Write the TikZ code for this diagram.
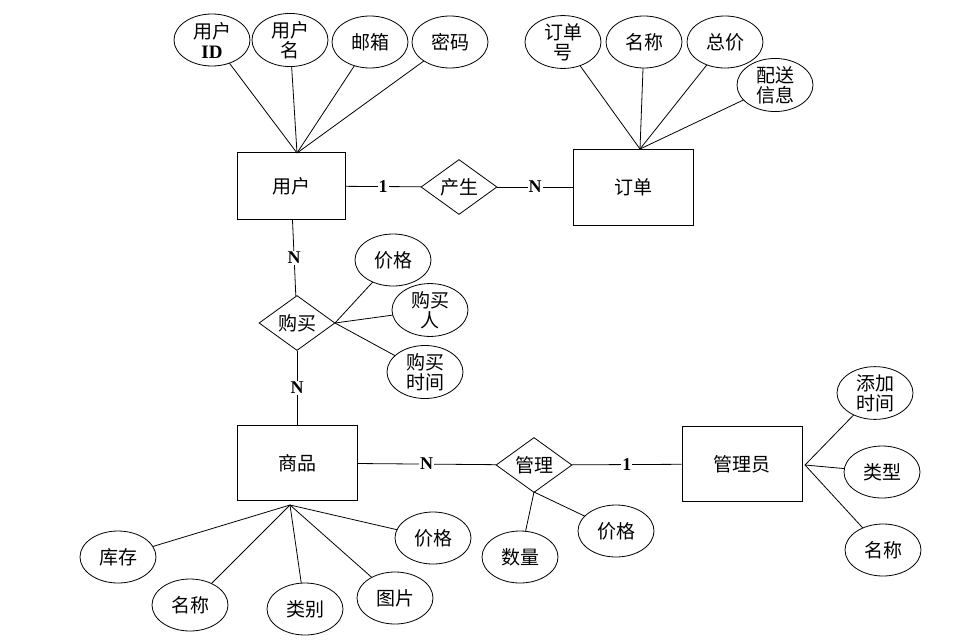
\documentclass[tikz,border=0pt]{standalone}
\usepackage{fontspec}
\setmainfont{Liberation Serif}
\newfontfamily\cjk{Noto Sans CJK SC}
\usetikzlibrary{shapes.geometric}
\begin{document}
\begin{tikzpicture}[x=1pt,y=-1pt,
  ent/.style={draw,minimum width=110pt,minimum height=70pt,font=\cjk\fontsize{19}{21}\selectfont},
  rel/.style={draw,diamond,aspect=1.4,minimum width=76pt,minimum height=55pt,inner sep=0pt,font=\cjk\fontsize{19}{21}\selectfont},
  att/.style={draw,ellipse,minimum width=76pt,minimum height=52pt,inner sep=0pt,align=center,font=\cjk\fontsize{19}{20}\selectfont,fill=white},
  lbl/.style={fill=white,font=\bfseries\fontsize{18}{20}\selectfont,inner sep=1pt},
  every path/.style={line width=0.8pt}]
\useasboundingbox (0,0) rectangle (960,643);
\node[ent,minimum width=108pt,minimum height=67pt] (user) at (291,186) {用户};
\node[ent,minimum width=120pt,minimum height=76pt] (order) at (633,187) {订单};
\node[ent,minimum width=120pt,minimum height=75pt] (goods) at (297,463) {商品};
\node[ent,minimum width=120pt,minimum height=75pt] (admin) at (742,464) {管理员};
\node[rel] (gen) at (459,187) {产生};
\node[rel] (buy) at (297,323) {购买};
\node[rel] (mgr) at (534,465) {管理};
\coordinate (uc) at (297,153);
\coordinate (oc) at (640,149);
\coordinate (gc) at (290,505);
\coordinate (ac) at (805,465);
\coordinate (bc) at (335,323);
\coordinate (mc) at (534,492);
\foreach \p in {{(212,40)},{(290,40)},{(370,42)},{(450,42)}}{\draw \p -- (uc);}
\foreach \p in {{(563,42)},{(644,42)},{(725,42)},{(775,85)}}{\draw \p -- (oc);}
\foreach \p in {{(118,557)},{(190,605)},{(305,609)},{(395,598)},{(433,538)}}{\draw \p -- (gc);}
\foreach \p in {{(875,393)},{(882,472)},{(883,550)}}{\draw \p -- (ac);}
\foreach \p in {{(393,260)},{(430,310)},{(425,372)}}{\draw \p -- (bc);}
\foreach \p in {{(616,531)},{(520,557)}}{\draw \p -- (mc);}
\node[att] (u1) at (212,40) {用户\\{\bfseries\rmfamily ID}};
\node[att] (u2) at (290,40) {用户\\名};
\node[att] (u3) at (370,42) {邮箱};
\node[att] (u4) at (450,42) {密码};
\node[att] (o1) at (563,42) {订单\\号};
\node[att] (o2) at (644,42) {名称};
\node[att] (o3) at (725,42) {总价};
\node[att] (o4) at (775,85) {配送\\信息};
\node[att] (b1) at (393,260) {价格};
\node[att] (b2) at (430,310) {购买\\人};
\node[att] (b3) at (425,372) {购买\\时间};
\node[att] (a1) at (875,393) {添加\\时间};
\node[att] (a2) at (882,472) {类型};
\node[att] (a3) at (883,550) {名称};
\node[att] (m1) at (616,531) {价格};
\node[att] (m2) at (520,557) {数量};
\node[att] (g1) at (118,557) {库存};
\node[att] (g2) at (190,605) {名称};
\node[att] (g3) at (305,609) {类别};
\node[att] (g4) at (395,598) {图片};
\node[att] (g5) at (433,538) {价格};
\draw (user) -- node[lbl]{1} (gen);
\draw (gen) -- node[lbl]{N} (order);
\draw (user) -- node[lbl]{N} (buy);
\draw (buy) -- node[lbl]{N} (goods);
\draw (goods) -- node[lbl]{N} (mgr);
\draw (mgr) -- node[lbl]{1} (admin);
\end{tikzpicture}
\end{document}
